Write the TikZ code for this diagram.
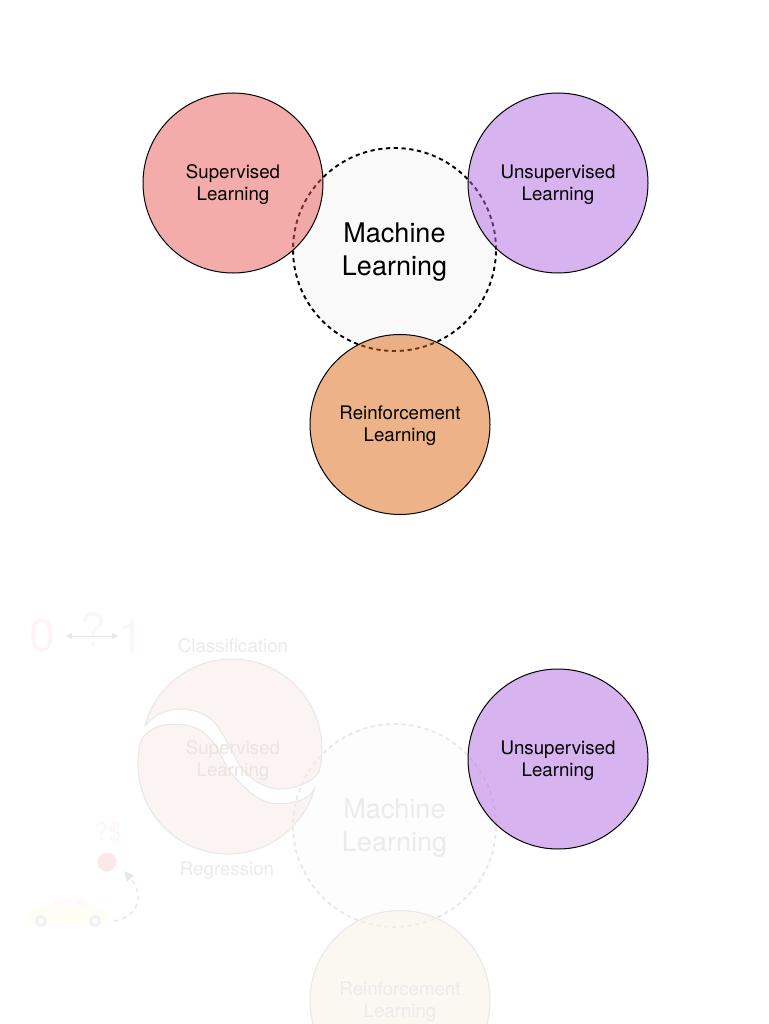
\documentclass[tikz,border=0pt]{standalone}
\usepackage{fontspec}
\setmainfont{TeX Gyre Heros}
\usetikzlibrary{arrows.meta}
\definecolor{mlfill}{HTML}{F9F9F9}
\definecolor{pinkf}{HTML}{E95B55}
\definecolor{purplef}{HTML}{B169E1}
\definecolor{orangef}{HTML}{DD6711}
\definecolor{fadeline}{HTML}{E8E8E8}
\definecolor{fadetext}{HTML}{EBEBEB}
\definecolor{fadepinktext}{HTML}{ECE3E3}
\definecolor{fadepink}{HTML}{FBE9E9}
\definecolor{fadeorange}{HTML}{F9F0E4}
\definecolor{fadesym}{HTML}{FEF6F6}
\definecolor{fademl}{HTML}{FDFDFD}
\tikzset{
  smalltxt/.style={font=\fontsize{18.7}{22.4}\selectfont,align=center,text=black,inner sep=0pt},
  bigtxt/.style={font=\fontsize{27}{33}\selectfont,align=center,text=black,inner sep=0pt},
  bubble/.style={circle,draw=black,line width=1pt,minimum size=180pt,inner sep=0pt,fill opacity=.5},
  mlcircle/.style={circle,draw=black,line width=1.9pt,dash pattern=on 4.2pt off 3.6pt,fill=mlfill,minimum size=203pt,inner sep=0pt},
  fademl/.style={circle,draw=fadeline,line width=1.8pt,dash pattern=on 4.2pt off 3.6pt,fill=fademl,minimum size=203pt,inner sep=0pt},
  fadetxt/.style={smalltxt,text=fadetext},
  fadelink/.style={draw=fadeline,line width=1.5pt},
  symtxt/.style={font=\fontsize{46}{46}\selectfont,text=fadesym,inner sep=0pt},
}
\begin{document}
\begin{tikzpicture}[x=1pt,y=-1pt]
\clip (0,0) rectangle (768,1024);
\fill[white] (0,0) rectangle (768,1024);
% upper group
\node[mlcircle] (ml) at (394.5,249.5) {};
\node[bubble,fill=pinkf] (sup) at (233,183) {};
\node[bubble,fill=purplef] (unsup) at (558,183) {};
\node[bubble,fill=orangef] (rein) at (400,424.5) {};
\node[bigtxt] (mlT) at (394.5,252) {Machine\\Learning};
\node[smalltxt] (supT) at (233,184.5) {Supervised\\Learning};
\node[smalltxt] (unsupT) at (558,184.5) {Unsupervised\\Learning};
\node[smalltxt] (reinT) at (400,425.5) {Reinforcement\\Learning};
% lower group
\node[fademl] (mlb) at (394.5,825.5) {};
\path[fill=fadepink,fill opacity=.5,draw=fadeline,line width=1pt]
  (145.1,725.7) .. controls (155,714) and (168,709) .. (180,709)
  .. controls (192,709) and (204,713) .. (212,720)
  .. controls (222,730) and (227,743) .. (233,753)
  .. controls (237,760) and (240,767) .. (245,772)
  .. controls (251,779) and (265,789) .. (280,789)
  .. controls (294,789) and (310,784) .. (318.9,772.3)
  arc[start angle=-15,end angle=165,radius=90pt] -- cycle;
\path[fill=fadepink,fill opacity=.5,draw=fadeline,line width=1pt]
  (141.5,739.2) .. controls (148,731) and (155,726) .. (165,725)
  .. controls (178,723) and (194,725) .. (203,732)
  .. controls (209,737) and (214,743) .. (217,748)
  .. controls (221,755) and (223,760) .. (227,767)
  .. controls (231,773) and (235,778) .. (240,783)
  .. controls (247,790) and (260,803) .. (275,803.5)
  .. controls (292,804) and (308,801) .. (314.5,788.8)
  arc[start angle=-16,end angle=-196,radius=90pt] -- cycle;
\node[bubble,fill=purplef] (unsupb) at (558,759) {};
\node[bubble,draw=fadeline,fill=fadeorange] (reinb) at (400,1000.5) {};
\node[bigtxt,text=fadetext] (mlbT) at (394.5,828) {Machine\\Learning};
\node[smalltxt,text=fadepinktext] (supb) at (233,760.5) {Supervised\\Learning};
\node[fadetxt] (classif) at (233,645.5) {Classification};
\node[fadetxt] (regr) at (227,870.5) {Regression};
\node[smalltxt] (unsupbT) at (558,760.5) {Unsupervised\\Learning};
\node[fadetxt] (reinbT) at (400,1001.5) {Reinforcement\\Learning};
% 0 ? 1
\node[symtxt] (zero) at (42,636) {0};
\node[symtxt] (one) at (131,636) {1};
\node[symtxt,text=fadeline!30!white] (quest) at (93,629) {?};
\draw[fadelink,line width=1pt,{Triangle[length=6pt,width=6pt]}-{Triangle[length=6pt,width=6pt]},shorten <=11pt,shorten >=0pt] (zero.east) -- (one.west);
% car
\node[font=\fontsize{24}{24}\selectfont,text=fadesym,inner sep=0pt] (price) at (108,833) {?\$};
\node[circle,fill=fadepink,minimum size=19pt,inner sep=0pt] (dot) at (107,862) {};
\fill[yellow!4!white] (27,917) .. controls (30,909) and (40,907) .. (46,905)
  .. controls (55,899) and (68,896) .. (78,897)
  .. controls (85,899) and (90,904) .. (95,907)
  .. controls (102,908) and (107,912) .. (108,921) -- (28,923) -- cycle;
\fill[blue!2!white] (50,905) .. controls (58,901) and (66,899) .. (72,899) -- (72,905) -- cycle
  (75,899) .. controls (81,900) and (85,903) .. (88,906) -- (75,905) -- cycle;
\foreach \cx/\nm in {41/wheelA,95/wheelB}{
  \node[circle,draw=white,line width=.8pt,fill=black!5,minimum size=13pt,inner sep=0pt] (\nm) at (\cx,921) {};
  \fill[white] (\cx,921) circle (2.5pt);
}
\coordinate (carEnd) at (114,921);
\coordinate (dotTip) at (124,871);
\draw[fadelink,dash pattern=on 4.5pt off 4pt,-{Triangle[length=10pt,width=9pt]}] (carEnd) .. controls (134,918) and (148,899) .. (dotTip);
\end{tikzpicture}
\end{document}
